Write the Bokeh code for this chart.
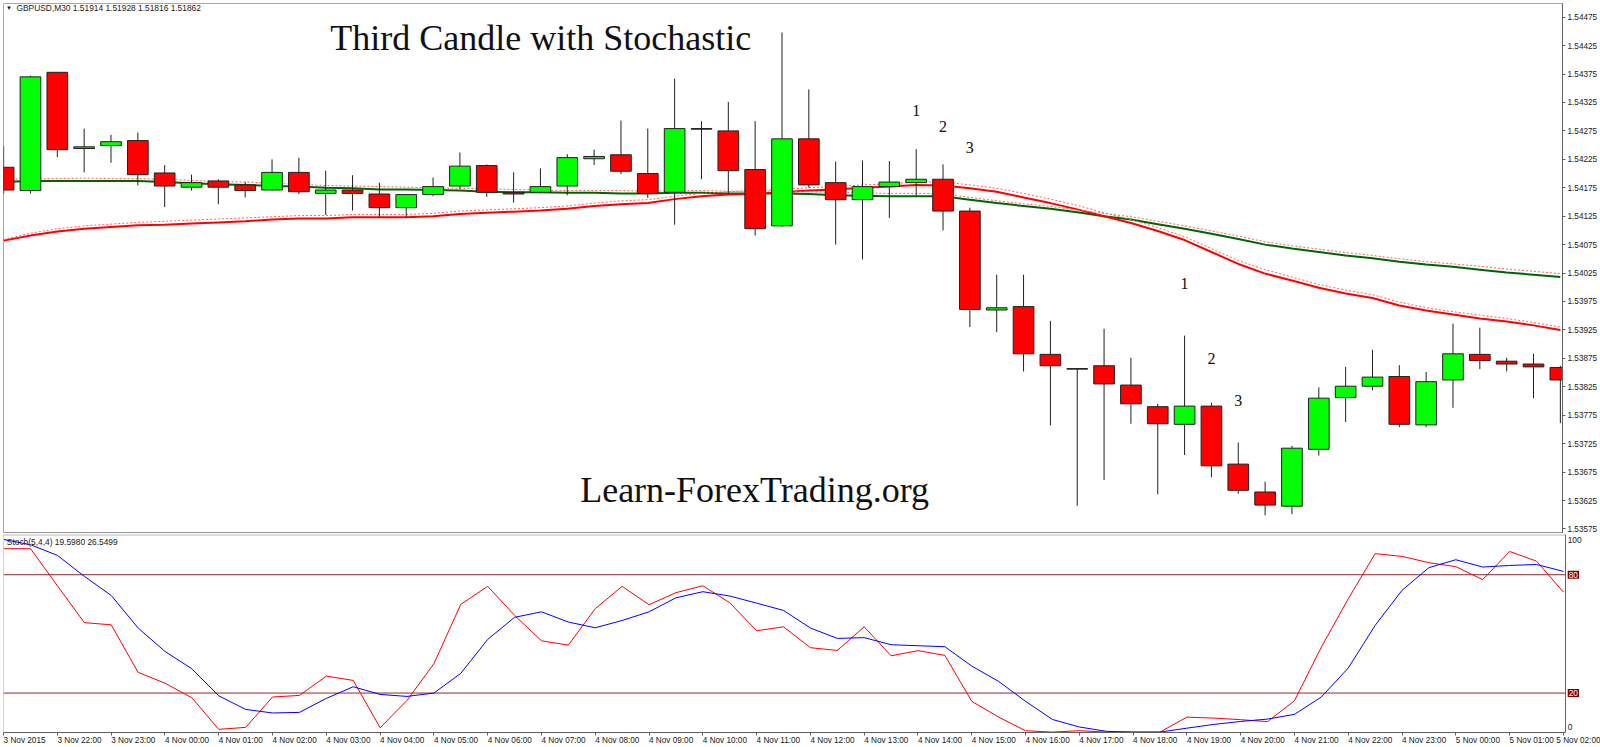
from bokeh.embed import file_html
from bokeh.resources import INLINE
from bokeh.plotting import figure
from bokeh.layouts import column
from bokeh.models import FixedTicker, NumeralTickFormatter, Span, Label, Range1d
import numpy as np

# 5-digit quotes in 1e-5 units
open_pts = [154211,154170,154378,154244,154249,154258,154201,154176,154187,154180,154171,154202,154165,154171,154164,154140,154163,154178,154214,154167,154167,154178,154226,154233,154200,154167,154279,154275,154207,154108,154261,154184,154154,154177,154184,154190,154134,153960,153966,153882,153857,153862,153828,153790,153759,153791,153689,153640,153615,153715,153806,153826,153843,153758,153837,153882,153870,153865,153859]
close_pts = [154171,154370,154242,154247,154256,154198,154178,154184,154176,154170,154202,154168,154171,154165,154140,154163,154177,154213,154167,154164,154177,154228,154230,154204,154165,154279,154278,154205,154103,154261,154180,154154,154177,154185,154190,154134,153961,153964,153883,153862,153856,153830,153795,153760,153791,153686,153643,153617,153717,153805,153826,153842,153759,153834,153883,153871,153865,153860,153837]
high_pts = [154248,154372,154378,154279,154268,154272,154215,154198,154190,154185,154225,154228,154205,154197,154184,154163,154193,154237,154216,154202,154209,154234,154242,154293,154279,154367,154292,154326,154292,154448,154348,154221,154223,154222,154243,154216,154140,154022,154022,153941,153857,153927,153876,153795,153915,153797,153727,153658,153721,153824,153860,153890,153863,153851,153936,153929,153876,153883,153862]
low_pts = [154164,154165,154229,154202,154219,154179,154141,154170,154146,154158,154169,154164,154127,154135,154124,154123,154160,154173,154159,154149,154165,154162,154215,154199,154157,154110,154190,154164,154091,154106,154175,154075,154049,154122,154161,154100,153930,153921,153852,153757,153616,153661,153760,153636,153705,153666,153637,153599,153601,153704,153763,153819,153754,153754,153788,153856,153852,153805,153761]

ma_green = [154185,154187,154187,154187,154187,154187,154185,154183,154181,154180,154178,154177,154175,154174,154172,154172,154171,154170,154168,154167,154167,154166,154166,154165,154165,154166,154166,154165,154165,154165,154164,154162,154161,154160,154160,154160,154154,154148,154143,154138,154132,154125,154119,154111,154103,154094,154085,154075,154068,154062,154056,154051,154045,154040,154036,154031,154026,154022,154018]
ma_green_upper = [154189,154191,154191,154192,154191,154191,154190,154188,154186,154185,154183,154181,154179,154178,154177,154176,154175,154174,154173,154172,154171,154170,154170,154170,154169,154170,154170,154169,154169,154169,154168,154167,154166,154165,154165,154165,154158,154152,154147,154142,154136,154130,154124,154116,154108,154099,154090,154080,154073,154067,154061,154056,154050,154045,154041,154037,154032,154028,154024]
ma_red = [154082,154091,154098,154103,154106,154109,154110,154112,154114,154116,154119,154121,154121,154123,154123,154123,154125,154129,154131,154133,154135,154138,154143,154146,154148,154155,154160,154163,154164,154167,154170,154172,154175,154177,154180,154179,154174,154168,154158,154148,154137,154125,154113,154099,154083,154062,154041,154024,154012,153999,153989,153981,153968,153959,153952,153945,153940,153933,153925]
ma_red_upper = [154084,154095,154103,154108,154111,154114,154116,154118,154120,154122,154124,154126,154126,154128,154128,154128,154130,154134,154136,154138,154140,154143,154148,154152,154154,154160,154165,154168,154170,154172,154175,154177,154180,154182,154185,154185,154180,154174,154165,154155,154144,154131,154119,154105,154089,154068,154047,154031,154018,154005,153995,153987,153974,153964,153957,153951,153945,153938,153930]

stoch_red = [93.2,93.2,74.4,55.7,54.6,30.5,25.0,17.6,1.6,2.6,18.0,18.8,28.6,26.4,2.4,16.3,34.9,65.0,74.1,59.4,46.5,44.3,62.8,74.1,64.8,70.9,74.4,65.8,51.6,53.6,43.0,41.6,53.6,38.9,41.5,39.1,15.8,7.8,0.9,0.2,0.9,0.2,0.2,0.2,7.8,7.3,6.5,5.5,16.1,43.3,67.8,90.7,89.3,86.1,84.1,77.5,91.8,86.9,71.2]
stoch_blue = [97.9,95.2,89.8,79.2,69.5,53.0,41.1,32.3,18.6,11.7,9.9,10.2,17.3,23.2,19.3,18.3,20.0,30.0,47.2,58.4,61.2,56.0,53.1,56.8,61.2,68.3,71.4,69.2,65.6,61.9,53.0,47.7,48.1,44.5,44.0,43.5,33.7,25.9,15.8,6.6,2.8,0.6,0.2,0.2,2.2,4.1,5.6,6.8,9.2,18.0,32.7,54.3,72.1,83.6,87.6,83.9,84.7,85.2,81.7]
stoch_levels = [80, 20]

time_labels = ["3 Nov 2015","3 Nov 22:00","3 Nov 23:00","4 Nov 00:00","4 Nov 01:00","4 Nov 02:00","4 Nov 03:00","4 Nov 04:00","4 Nov 05:00","4 Nov 06:00","4 Nov 07:00","4 Nov 08:00","4 Nov 09:00","4 Nov 10:00","4 Nov 11:00","4 Nov 12:00","4 Nov 13:00","4 Nov 14:00","4 Nov 15:00","4 Nov 16:00","4 Nov 17:00","4 Nov 18:00","4 Nov 19:00","4 Nov 20:00","4 Nov 21:00","4 Nov 22:00","4 Nov 23:00","5 Nov 00:00","5 Nov 01:00","5 Nov 02:00"]
price_ticks = [1.54475,1.54425,1.54375,1.54325,1.54275,1.54225,1.54175,1.54125,1.54075,1.54025,1.53975,1.53925,1.53875,1.53825,1.53775,1.53725,1.53675,1.53625,1.53575]

TICK_FONT = "Liberation Sans"
n = len(open_pts)
idx = np.arange(n)
o, c, h, l = [np.array(a) / 1e5 for a in (open_pts, close_pts, high_pts, low_pts)]
colors = ["#00ff00" if b >= a else "#ff0000" for a, b in zip(open_pts, close_pts)]
X0, X1, X_PAGE_END = -0.005, 58.08, 59.38
STOCH_TOP = 100.4

top = figure(width=1600, height=533, output_backend="svg", toolbar_location=None,
             x_range=Range1d(X0, X1), y_range=Range1d(1.53567, 1.54499),
             x_axis_location=None, y_axis_location="right", frame_align=False,
             min_border_left=3, min_border_right=35, min_border_top=3, min_border_bottom=0)
top.grid.visible = False
top.outline_line_color = "#a8a8a8"
top.yaxis.ticker = FixedTicker(ticks=price_ticks)
top.yaxis.formatter = NumeralTickFormatter(format="0.00000")

for name, arr, col, w, dash in [("g", ma_green, "#006400", 2, "solid"), ("r", ma_red, "#ff0000", 2, "solid"),
                                ("gu", ma_green_upper, "#ff6060", 1, "2 2"), ("ru", ma_red_upper, "#ff6060", 1, "2 2")]:
    top.line(idx, np.array(arr) / 1e5, line_color=col, line_width=w, line_dash=dash)

top.segment(idx, h, idx, l, line_color="#202020", line_width=1)
top.vbar(x=idx, width=0.77, top=np.maximum(o, c), bottom=np.minimum(o, c),
         fill_color=colors, line_color="#202020", line_width=1)
top.add_layout(Span(location=1.53567, dimension="width", line_color="#505050", line_width=1.5))

def note(fig, x, y, text, size, font="Liberation Serif", color="#101010", **kw):
    kw.setdefault("text_baseline", "middle")
    fig.add_layout(Label(x=x, y=y, text=text, text_font=font, text_font_size=size, text_color=color, **kw))

note(top, 12.17, 1.54438, "Third Candle with Stochastic", "36px")
note(top, 21.48, 1.53644, "Learn-ForexTrading.org", "36px")
for i, p, t in [(34, 1.54311, "1"), (35, 1.54282, "2"), (36, 1.54245, "3"),
                (44, 1.54006, "1"), (45, 1.53874, "2"), (46, 1.53801, "3")]:
    note(top, i, p, t, "16px", text_align="center")
note(top, 0.09, 1.54491, "\u25bc", "6px", font=TICK_FONT)
note(top, 0.48, 1.54491, "GBPUSD,M30  1.51914 1.51928 1.51816 1.51862", "8.4px", font=TICK_FONT, color="#202020")

bot = figure(width=1600, height=219, output_backend="svg", toolbar_location=None,
             x_range=Range1d(X0, X_PAGE_END), y_range=Range1d(0, STOCH_TOP),
             x_axis_location="below", y_axis_location=None, frame_align=False,
             min_border_left=3, min_border_right=0, min_border_top=1, min_border_bottom=15)
bot.grid.visible = False
bot.outline_line_color = None
bot.xaxis.ticker = FixedTicker(ticks=list(range(0, n, 2)))
bot.xaxis.major_label_overrides = {i * 2: t for i, t in enumerate(time_labels)}
bot.xaxis.major_label_orientation = -1e-4
bot.xaxis.bounds = (X0, X1)

bot.add_layout(Span(location=X1, dimension="height", line_color="#606060", line_width=1))
bot.add_layout(Span(location=X0, dimension="height", line_color="#a8a8a8", line_width=1))
for level in stoch_levels:
    bot.line([X0, X1], [level, level], line_color="#800000", line_width=1, line_alpha=0.85)
bot.line([X0, X1], [STOCH_TOP, STOCH_TOP], line_color="#b8b8b8", line_width=2)
bot.line(idx, stoch_red, line_color="#ff0000", line_width=1)
bot.line(idx, stoch_blue, line_color="#0000ff", line_width=1)

note(bot, 0.12, 96.5, "Stoch(5,4,4) 19.5980 26.5499", "8.4px", font=TICK_FONT, color="#202020")
XLAB = 58.16
note(bot, XLAB, 100, "100", "8.4px", font=TICK_FONT, color="#202020", y_offset=-5)
note(bot, XLAB, 0, "0", "8.4px", font=TICK_FONT, color="#202020", y_offset=6)
for level in stoch_levels:
    note(bot, XLAB, level, str(level), "8.4px", font=TICK_FONT, color="#ffffff", background_fill_color="#800000", padding=1)

for ax in (top.yaxis[0], bot.xaxis[0]):
    ax.axis_line_color = "#606060"
    ax.major_tick_line_color = "#606060"
    ax.minor_tick_line_color = None
    ax.major_tick_in = 0
    ax.major_tick_out = 3
    ax.major_label_text_font = TICK_FONT
    ax.major_label_text_color = "#202020"
    ax.major_label_text_font_style = "normal"
    ax.major_label_text_font_size = "8.2px"
top.yaxis[0].major_label_standoff = 2
bot.xaxis[0].major_label_standoff = 5

page = column(top, bot, height=747, styles={"overflow": "hidden"})
open("out.html", "w").write(file_html(page, INLINE))
